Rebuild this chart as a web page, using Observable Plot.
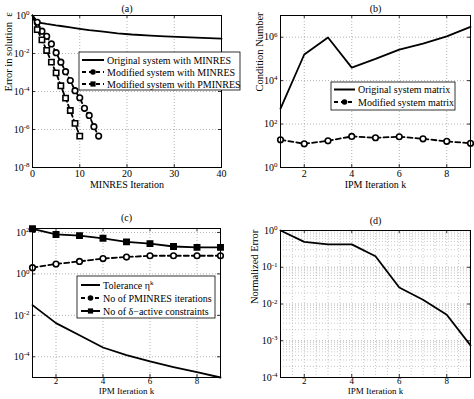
<!DOCTYPE html>
<html><head><meta charset="utf-8">
<script src="https://cdn.jsdelivr.net/npm/d3@7"></script>
<script src="https://cdn.jsdelivr.net/npm/@observablehq/plot@0.6"></script>
<style>
body{margin:0;background:#fff}
#wrap{position:relative;width:474px;height:399px;overflow:hidden;background:#fff}
svg{overflow:visible}
</style>
</head><body><div id="wrap"></div>
<script>
// ---------- Panel (a) ----------
const aIterOriginal = [0,1,2,3,4,5,6,8,10,12,15,18,21,25,28,32,36,40];
const aErrOriginal  = [1,0.45,0.4,0.36,0.33,0.3,0.28,0.24,0.2,0.17,0.14,0.115,0.1,0.088,0.08,0.072,0.066,0.06];
const aIterMinres = [0,1,2,3,4,5,6,7,8,9,10,11,12,13,14];
const aErrMinres  = [1,0.44,0.15,0.08,0.032,0.011,0.0035,0.0011,0.00038,0.00011,4.7e-5,1.3e-5,5.5e-6,1.4e-6,4.5e-7];
const aIterPminres = [0,1,2,3,4,5,6,7,8,9,10];
const aErrPminres  = [1,0.18,0.052,0.0145,0.0035,0.00096,0.0002,4.5e-5,1e-5,2.1e-6,4.5e-7];
const aXTicks = [0,10,20,30,40];
const aYTicks = [1e-8,1e-6,1e-4,1e-2,1];
const aLegend = ["Original system with MINRES","Modified system with MINRES","Modified system with PMINRES"];

// ---------- Panel (b) ----------
const bK = [1,2,3,4,5,6,7,8,9];
const bOriginal = [510,1.6e5,9.7e5,4e4,1e5,2.7e5,5.1e5,1.1e6,3e6];
const bModified = [19,12.4,17,27,23.5,26,21,16,13];
const bYTicks = [1,1e2,1e4,1e6];
const bLegend = ["Original system matrix","Modified system matrix"];

// ---------- Panel (c) ----------
const cK = [1,2,3,4,5,6,7,8,9];
const cTolerance = [0.031,0.0042,0.0011,0.00028,0.00012,6e-5,3.2e-5,1.8e-5,1e-5];
const cPminres = [2,3,4,5.5,6.5,7.5,7.5,7.5,7.5];
const cActive = [150,80,70,52,35,29,21,19,19];
const cYTicks = [1e-4,1e-2,1,1e2];
const cLegend = ["Tolerance η^k","No of PMINRES iterations","No of δ−active constraints"];

// ---------- Panel (d) ----------
const dK = [1,2,3,4,5,6,7,8,9];
const dError = [1,0.49,0.42,0.42,0.2,0.028,0.013,0.0051,0.00075];
const dYTicks = [1e-4,1e-3,1e-2,1e-1,1];

const kTicks = [2,4,6,8];
const titles = ["(a)","(b)","(c)","(d)"];
const xLabels = ["MINRES Iteration","IPM Iteration k","IPM Iteration k","IPM Iteration k"];
const yLabels = ["Error in solution  ε","Condition Number","","Normalized Error"];

const FONT = "'Liberation Serif','Times New Roman',serif";
const zip = (xs, ys) => xs.map((x, i) => ({x, y: ys[i]}));
const logFmt = d => "10^" + Math.round(Math.log10(d));
const grid = {stroke: "#888", strokeOpacity: 0.8, strokeDasharray: "1,2", strokeWidth: 0.8};
const wrap = document.getElementById("wrap");

function place(svg, left, top, xTickFont) {
  svg.style.position = "absolute";
  svg.style.left = left + "px";
  svg.style.top = top + "px";
  svg.style.overflow = "visible";
  d3.select(svg).selectAll('g[aria-label="y-axis tick label"] text').each(function() {
    const t = this.textContent;
    if (!t.startsWith("10^")) return;
    const e = t.slice(3);
    const s = d3.select(this);
    s.text(null);
    s.append("tspan").text("10");
    s.append("tspan").attr("dy", "-0.5em").attr("font-size", "7px").text(e);
  });
  if (xTickFont) d3.select(svg).selectAll('g[aria-label="x-axis tick label"]').attr("font-size", xTickFont);
  wrap.appendChild(svg);
}

function legend(svg, box, items) {
  const g = d3.select(svg).append("g").attr("font-family", FONT).attr("font-size", 10)
    .attr("fill", "black").attr("text-anchor", "start");
  g.append("rect").attr("x", box.x).attr("y", box.y).attr("width", box.w).attr("height", box.h)
    .attr("fill", "white").attr("stroke", "black").attr("stroke-width", 0.8);
  items.forEach((it, i) => {
    const y = box.y0 + i * box.row;
    g.append("line").attr("x1", box.lx1).attr("x2", box.lx2).attr("y1", y).attr("y2", y)
      .attr("stroke", "black").attr("stroke-width", 2).attr("stroke-dasharray", it.dash ? "4,3" : null);
    const cx = (box.lx1 + box.lx2) / 2;
    if (it.marker === "circle") g.append("circle").attr("cx", cx).attr("cy", y).attr("r", 2.8).attr("fill", "black");
    if (it.marker === "square") g.append("rect").attr("x", cx - 2.6).attr("y", y - 2.6).attr("width", 5.2).attr("height", 5.2).attr("fill", "black");
    const t = g.append("text").attr("x", box.tx).attr("y", y).attr("dy", "0.35em").attr("text-anchor", "start");
    const parts = it.label.split("^");
    t.append("tspan").text(parts[0]);
    if (parts[1]) t.append("tspan").attr("dy", "-0.45em").attr("font-size", "7px").text(parts[1]);
  });
}

function base(i, opts) {
  return {
    width: 237, height: opts.height,
    marginLeft: opts.ml, marginRight: opts.mr, marginTop: opts.mt, marginBottom: opts.mb,
    style: {fontFamily: FONT, fontSize: "10px", color: "black", background: "transparent", overflow: "visible"},
    x: {domain: opts.xd, ticks: opts.xt, tickSize: 0, tickPadding: opts.xpad ?? 2, label: null},
    y: {type: "log", domain: opts.yd, ticks: opts.yt, tickFormat: logFmt, tickSize: 0, tickPadding: 3, label: null},
  };
}

// small inward tick marks on all four sides of the frame (MATLAB style)
function innerTicks(o) {
  const W = 237 - o.ml - o.mr, H = o.height - o.mt - o.mb, s = {stroke: "black", strokeWidth: 0.8};
  return [
    Plot.tickX(o.xt, {x: d => d, insetTop: H - 3, ...s}),
    Plot.tickX(o.xt, {x: d => d, insetBottom: H - 3, ...s}),
    Plot.tickY(o.yt, {y: d => d, insetRight: W - 3, ...s}),
    Plot.tickY(o.yt, {y: d => d, insetLeft: W - 3, ...s})
  ];
}

function decor(i, o) {
  const m = [
    Plot.frame({stroke: "black", strokeWidth: 1}),
    Plot.text([titles[i]], {text: d => d, frameAnchor: "top", dy: o.tdy, fontSize: 10}),
    Plot.text([xLabels[i]], {text: d => d, frameAnchor: "bottom", dy: o.xdy, fontSize: o.xfs ?? 10})
  ];
  if (yLabels[i]) m.push(Plot.text([yLabels[i]], {text: d => d, frameAnchor: "left", dx: o.ydx, rotate: -90, fontSize: 10.5}));
  return m;
}

const lineS = {x: "x", y: "y", stroke: "black", strokeWidth: 1.8};
const lineD = {x: "x", y: "y", stroke: "black", strokeWidth: 1.8, strokeDasharray: "5,3"};
const dotC = {x: "x", y: "y", r: 2.8, stroke: "black", strokeWidth: 1.6, fill: "white", symbol: "circle"};
const dotS = {x: "x", y: "y", r: 3, stroke: "black", strokeWidth: 1.6, fill: "white", symbol: "square"};

// (a)
{
  const o = {height: 199, ml: 32, mr: 16, mt: 15, mb: 32, xd: [0, 40], xt: aXTicks, yd: [1e-8, 1], yt: aYTicks};
  const mod = zip(aIterMinres, aErrMinres), pm = zip(aIterPminres, aErrPminres);
  const svg = Plot.plot({...base(0, o), marks: [
    Plot.gridX(aXTicks, grid), Plot.gridY(aYTicks, grid), ...innerTicks(o),
    Plot.line(zip(aIterOriginal, aErrOriginal), lineS),
    Plot.line(mod, lineD), Plot.dot(mod.slice(1), dotC),
    Plot.line(pm, lineD), Plot.dot(pm.slice(1), dotS),
    ...decor(0, {tdy: -11, xdy: 20.5, ydx: -24})
  ]});
  legend(svg, {x: 79, y: 52, w: 161, h: 38, y0: 60, row: 12, lx1: 82, lx2: 104, tx: 107},
    [{label: aLegend[0]}, {label: aLegend[1], dash: true, marker: "circle"}, {label: aLegend[2], dash: true, marker: "square"}]);
  place(svg, 0, 0);
}
// (b)
{
  const o = {height: 199, ml: 43, mr: 4, mt: 15, mb: 32, xd: [1, 9], xt: kTicks, yd: [1, 1e7], yt: bYTicks};
  const mod = zip(bK, bModified);
  const svg = Plot.plot({...base(1, o), marks: [
    Plot.gridX(kTicks, grid), Plot.gridY(bYTicks, grid), ...innerTicks(o),
    Plot.line(zip(bK, bOriginal), lineS),
    Plot.line(mod, lineD), Plot.dot(mod, dotC),
    ...decor(1, {tdy: -11, xdy: 20.5, ydx: -21})
  ]});
  legend(svg, {x: 94, y: 82, w: 124, h: 28, y0: 89.5, row: 12.5, lx1: 97, lx2: 118, tx: 121},
    [{label: bLegend[0]}, {label: bLegend[1], dash: true, marker: "circle"}]);
  place(svg, 237, 0);
}
// (c)
{
  const o = {height: 200, ml: 32, mr: 17, mt: 29, mb: 22, xd: [1, 9], xt: kTicks, yd: [1e-5, 155], yt: cYTicks, xpad: 0};
  const pm = zip(cK, cPminres), ac = zip(cK, cActive);
  const svg = Plot.plot({...base(2, o), marks: [
    Plot.gridX(kTicks, grid), Plot.gridY(cYTicks, grid), ...innerTicks(o),
    Plot.line(zip(cK, cTolerance), lineS),
    Plot.line(pm, lineD), Plot.dot(pm, dotC),
    Plot.line(ac, lineS), Plot.dot(ac, {...dotS, fill: "black"}),
    ...decor(2, {tdy: -15, xdy: 16.5, xfs: 9, ydx: -24})
  ]});
  legend(svg, {x: 77, y: 77, w: 138, h: 42, y0: 86, row: 13, lx1: 81, lx2: 100, tx: 103},
    [{label: cLegend[0]}, {label: cLegend[1], dash: true, marker: "circle"}, {label: cLegend[2], marker: "square"}]);
  place(svg, 0, 199, 9);
}
// (d)
{
  const minorY = [];
  for (const p of [1e-4, 1e-3, 1e-2, 1e-1]) for (const m of [2,3,4,5,6,7,8,9]) minorY.push(m * p);
  const minorX = [1.5,2,2.5,3,3.5,4,4.5,5,5.5,6,6.5,7,7.5,8,8.5];
  const o = {height: 200, ml: 43, mr: 4, mt: 31, mb: 22, xd: [1, 9], xt: kTicks, yd: [1e-4, 1], yt: dYTicks, xpad: 0};
  const svg = Plot.plot({...base(3, o), marks: [
    Plot.gridX(minorX, {...grid, stroke: "#aaa"}), Plot.gridY(minorY, {...grid, stroke: "#aaa"}),
    Plot.gridY(dYTicks, grid), ...innerTicks(o),
    Plot.line(zip(dK, dError), lineS),
    ...decor(3, {tdy: -14, xdy: 16.5, xfs: 9, ydx: -26})
  ]});
  place(svg, 237, 199, 9);
}
</script></body></html>
